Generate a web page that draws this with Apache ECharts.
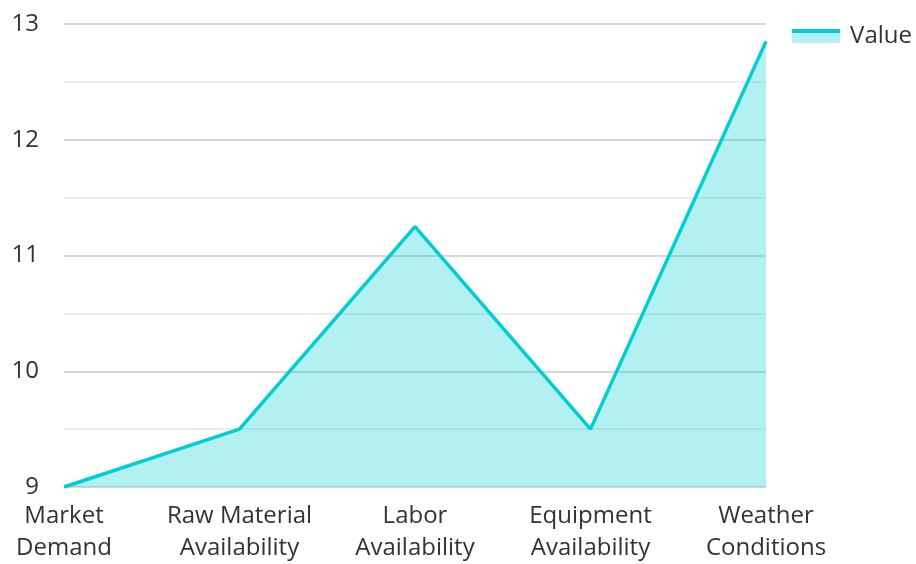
<!DOCTYPE html>
<html>
<head>
<meta charset="utf-8">
<script src="https://cdn.jsdelivr.net/npm/echarts@6/dist/echarts.min.js"></script>
<style>
  html, body { margin: 0; padding: 0; background: #fff; }
  #chart { width: 916px; height: 564px; }
</style>
</head>
<body>
<div id="chart"></div>
<script>
// Factor categories and their values
const categories = [
  'Market\nDemand',
  'Raw Material\nAvailability',
  'Labor\nAvailability',
  'Equipment\nAvailability',
  'Weather\nConditions'
];
const values = [9, 9.5, 11.25, 9.5, 12.85];
const seriesName = 'Value';
const yMin = 9;
const yMax = 13;
const yStep = 1;

const lineColor = '#00CED1';
const fontFamily = '"Open Sans", "Noto Sans", sans-serif';

// Legend swatch: a line band on top of a filled area band
const legendSwatch = {
  type: 'linear', x: 0, y: 0, x2: 0, y2: 1,
  colorStops: [
    { offset: 0, color: lineColor },
    { offset: 0.26, color: lineColor },
    { offset: 0.26, color: '#b2f0f1' },
    { offset: 1, color: '#b2f0f1' }
  ]
};

const chart = echarts.init(document.getElementById('chart'), null, { renderer: 'canvas' });
chart.setOption({
  animation: false,
  textStyle: { fontFamily: fontFamily },
  grid: { left: 64, right: 150, top: 24, bottom: 74 },
  legend: {
    data: [{ name: seriesName, icon: 'rect' }],
    right: 4,
    top: 24,
    padding: 0,
    itemWidth: 48,
    itemHeight: 14,
    itemGap: 10,
    itemStyle: { color: legendSwatch, borderWidth: 0 },
    textStyle: {
      fontSize: 24,
      color: '#333',
      fontFamily: fontFamily,
      padding: [0, 0, 10, 5]
    }
  },
  xAxis: {
    type: 'category',
    data: categories,
    boundaryGap: false,
    axisLine: { show: false },
    axisTick: { show: false },
    axisLabel: {
      interval: 0,
      fontSize: 24,
      lineHeight: 32,
      color: '#333',
      margin: 13
    }
  },
  yAxis: {
    type: 'value',
    min: yMin,
    max: yMax,
    interval: yStep,
    axisLine: { show: false },
    axisTick: { show: false },
    axisLabel: { fontSize: 24, color: '#333', margin: 25 },
    splitLine: { lineStyle: { color: '#cccccc', width: 1.5 } },
    minorTick: { show: false, splitNumber: 2 },
    minorSplitLine: { show: true, lineStyle: { color: '#e6e6e6', width: 1.5 } }
  },
  series: [{
    name: seriesName,
    type: 'line',
    data: values,
    symbol: 'none',
    lineStyle: { color: lineColor, width: 3.5 },
    itemStyle: { color: lineColor },
    areaStyle: { color: lineColor, opacity: 0.3 }
  }]
});
</script>
</body>
</html>
